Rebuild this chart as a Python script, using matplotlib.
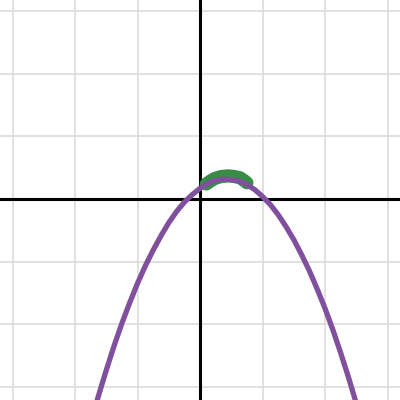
import matplotlib

matplotlib.use("Agg")
import matplotlib.pyplot as plt

# Purple parabola, points (graph units)
CURVE_X = [-1.7, -1.625, -1.5, -1.375, -1.25, -1.125, -1.0, -0.875, -0.75,
           -0.625, -0.5, -0.375, -0.25, -0.125, 0.0, 0.125, 0.25, 0.375, 0.5,
           0.625, 0.75, 0.875, 1.0, 1.125, 1.25, 1.375, 1.5, 1.625, 1.75,
           1.875, 2.0, 2.125, 2.25, 2.375, 2.5, 2.6]
CURVE_Y = [-3.41, -3.15, -2.74, -2.35, -1.99, -1.66, -1.35, -1.07, -0.82,
           -0.59, -0.38, -0.20, -0.05, 0.07, 0.17, 0.25, 0.30, 0.32, 0.31,
           0.29, 0.23, 0.15, 0.04, -0.09, -0.25, -0.44, -0.65, -0.89, -1.15,
           -1.44, -1.75, -2.09, -2.46, -2.85, -3.27, -3.62]

# Green thick stroke near the vertex
STROKE_X = [0.10, 0.17, 0.24, 0.34, 0.45, 0.55, 0.64, 0.70, 0.75]
STROKE_Y = [0.24, 0.29, 0.33, 0.36, 0.37, 0.36, 0.34, 0.30, 0.26]

GRID_TICKS = [-3, -2, -1, 0, 1, 2, 3]

PURPLE = "#80509e"
GREEN = "#388c46"


def main() -> None:
    fig = plt.figure(figsize=(4, 4), dpi=100)
    ax = fig.add_axes((0, 0, 1, 1))
    ax.set_xlim(-3.2, 3.2)
    ax.set_ylim(-3.216, 3.184)

    ax.set_xticks(GRID_TICKS)
    ax.set_yticks(GRID_TICKS)
    ax.tick_params(length=0, labelbottom=False, labelleft=False)
    ax.grid(True, color="#dcdcdc", linewidth=1.2)
    ax.set_axisbelow(True)
    for spine in ax.spines.values():
        spine.set_visible(False)

    ax.axhline(0, color="black", linewidth=2.2, zorder=2)
    ax.axvline(0, color="black", linewidth=2.2, zorder=2)

    ax.plot(STROKE_X, STROKE_Y, color=GREEN, linewidth=9.5,
            solid_capstyle="round", solid_joinstyle="round", zorder=3)
    ax.plot(CURVE_X, CURVE_Y, color=PURPLE, linewidth=3.8,
            solid_joinstyle="round", zorder=4)

    fig.savefig("out.png", dpi=100)
    plt.close(fig)


if __name__ == "__main__":
    main()
